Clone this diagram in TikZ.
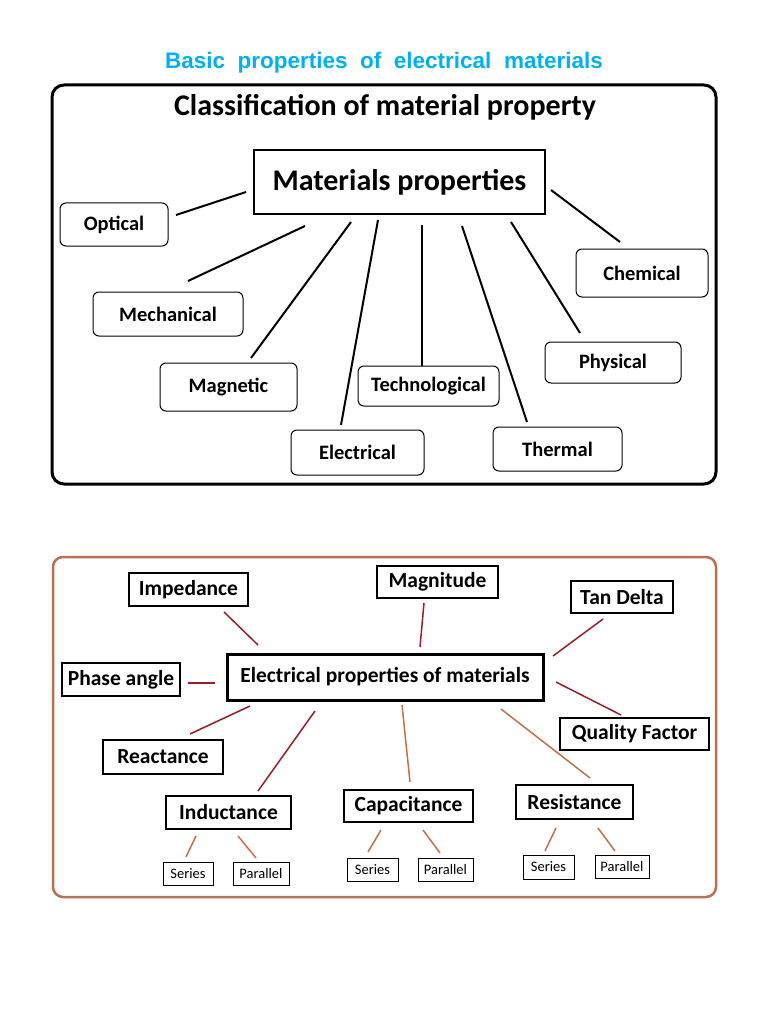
\documentclass[tikz,border=0pt]{standalone}
\usepackage{fontspec}
\setmainfont{Carlito}
\newfontfamily\arialf{Liberation Sans}
\begin{document}
\begin{tikzpicture}[x=1pt,y=-1pt,
 rbox/.style={draw,line width=1pt,rounded corners=6pt,font=\bfseries\fontsize{20.5}{22}\selectfont,inner sep=0pt},
 sbox/.style={draw,line width=2pt,font=\bfseries\fontsize{21.5}{23}\selectfont,inner sep=0pt},
 tbox/.style={draw,line width=0.7pt,font=\fontsize{14.5}{16}\selectfont,inner sep=0pt},
 bl/.style={line width=2pt},
 rl/.style={line width=1.5pt,draw={rgb,255:red,150;green,30;blue,40}},
 ol/.style={line width=1.5pt,draw={rgb,255:red,192;green,112;blue,74}}]
\useasboundingbox (0,0) rectangle (768,1024);
\node[font=\arialf\bfseries\fontsize{22.5}{24}\selectfont,text={rgb,255:red,0;green,176;blue,240}] (title) at (384,63) {Basic\ \ properties\ \ of\ \ electrical\ \ materials};
\draw[line width=3pt,rounded corners=12pt] (52,85) rectangle (716,484);
\node[font=\bfseries\fontsize{30}{32}\selectfont] (cls) at (385,107) {Classification of material property};
\node[sbox,minimum width=291,minimum height=64,font=\bfseries\fontsize{30}{32}\selectfont] (mp) at (399.5,182) {Materials properties};
\foreach \n/\t/\a/\b/\c/\d in {opt/Optical/60/203/168/246, mec/Mechanical/93/292/243/336, mag/Magnetic/160/363/297/411, ele/Electrical/291/430/424/475, tec/Technological/358/366/499/406, the/Thermal/493/427/622/471, phy/Physical/545/342/681/383, che/Chemical/576/249/708/297}
 \node[rbox,minimum width=\c-\a,minimum height=\d-\b] (\n) at ({(\a+\c)/2},{(\b+\d)/2}) {\t};
\foreach \n/\p/\q/\r/\s in {opt/176/215/246/192, mec/188/281/305/226, mag/251/358/351/222, ele/341/425/378/220, tec/422/366/422/225, the/527/422/462/226, phy/580/333/511/222, che/620/242/551/190}{
 \coordinate (\n a) at (\p,\q); \coordinate (\n b) at (\r,\s);
 \draw[bl] (\n a) -- (\n b);}
\draw[line width=2.5pt,rounded corners=10pt,draw={rgb,255:red,185;green,113;blue,79}] (53,557) rectangle (716,897);
\node[sbox,line width=3pt,minimum width=316,minimum height=46] (ep) at (385,677) {Electrical properties of materials};
\foreach \n/\t/\a/\b/\c/\d in {imp/Impedance/129/573/248/606, mgn/Magnitude/377/566/498/598, tan/Tan Delta/571/581/673/613, pha/Phase angle/62/663/180/696, qua/Quality Factor/560/718/709/750, rea/Reactance/103/740/223/774, ind/Inductance/166/796/291/829, cap/Capacitance/344/790/473/822, res/Resistance/516/785/633/819}
 \node[sbox,minimum width=\c-\a,minimum height=\d-\b] (\n) at ({(\a+\c)/2},{(\b+\d)/2}) {\t};
\foreach \n/\t/\a/\b/\c/\d in {s1/Series/163/862/213/885, p1/Parallel/233/862/289/885, s2/Series/347/858/398/881, p2/Parallel/418/858/473/881, s3/Series/523/855/574/879, p3/Parallel/595/855/649/878}
 \node[tbox,minimum width=\c-\a,minimum height=\d-\b] (\n) at ({(\a+\c)/2},{(\b+\d)/2}) {\t};
\foreach \n/\st/\p/\q/\r/\s in {imp/rl/224/612/258/645, mgn/rl/424/603/420/647, tan/rl/603/619/553/656, pha/rl/188/683/215/683, qua/rl/556/682/621/715, rea/rl/190/734/250/706, ind/rl/258/791/315/711, cap/ol/410/782/402/705, res/ol/590/778/501/709, s1/ol/186/857/196/836, p1/ol/256/858/238/836, s2/ol/368/852/381/830, p2/ol/440/853/423/830, s3/ol/545/851/556/828, p3/ol/615/851/598/828}{
 \coordinate (\n c) at (\p,\q); \coordinate (\n d) at (\r,\s);
 \draw[\st] (\n c) -- (\n d);}
\end{tikzpicture}
\end{document}
